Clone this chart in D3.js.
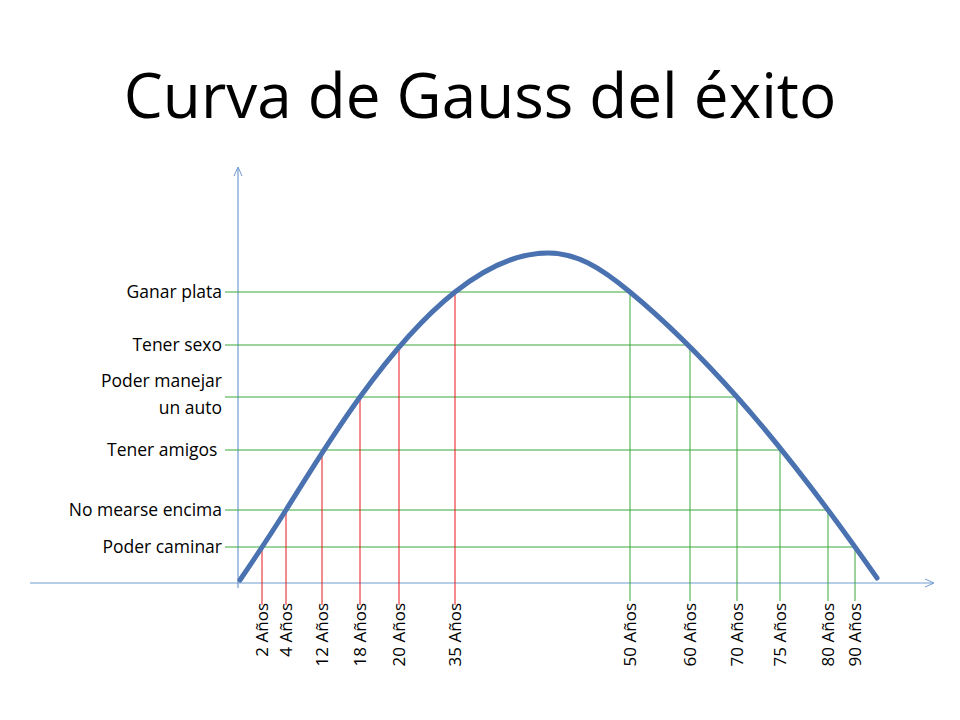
<!DOCTYPE html>
<html><head><meta charset="utf-8">
<script src="https://cdn.jsdelivr.net/npm/d3@7"></script>
<style>body{margin:0;background:#fff}svg{display:block}</style>
</head><body>
<svg id="c" width="960" height="720"></svg>
<script>
// Data (x: position along horizontal axis, y: height above axis)
const levelLabels = [["Ganar plata"],["Tener sexo"],["Poder manejar","un auto"],["Tener amigos "],["No mearse encima"],["Poder caminar"]];
const levelValues = [291, 238, 186, 133, 73, 36];
const riseAges = ["2 Años","4 Años","12 Años","18 Años","20 Años","35 Años"];
const riseX = [24, 48, 84, 122, 161, 217];
const fallAges = ["50 Años","60 Años","70 Años","75 Años","80 Años","90 Años"];
const fallX = [392, 452, 499, 542, 590, 617];
const curveX = [2, 48, 122, 217, 310, 392, 499, 590, 639];
const curveY = [3, 73, 186, 291, 330, 291, 186, 73, 5];

const svg = d3.select("#c");
const x = d3.scaleLinear().domain([0,700]).range([238,938]);
const y = d3.scaleLinear().domain([0,340]).range([583,243]);
const font = "'Open Sans', 'Noto Sans', sans-serif";
const axisCol = "#6f9bd1", blue = "#4a72b0";

svg.append("text").attr("x",480).attr("y",118).attr("text-anchor","middle")
  .attr("font-family",font).attr("font-size",62).attr("fill","#000").text("Curva de Gauss del éxito");

svg.append("line").attr("x1",x(0)).attr("x2",x(0)).attr("y1",y(-5)).attr("y2",y(415)).attr("stroke",axisCol).attr("stroke-width",1.2);
svg.append("line").attr("x1",x(-208)).attr("x2",x(695)).attr("y1",y(0)).attr("y2",y(0)).attr("stroke",axisCol).attr("stroke-width",1.2);
svg.append("path").attr("d",`M${x(0)-4},${y(407)}L${x(0)},${y(416)}L${x(0)+4},${y(407)}`).attr("fill","none").attr("stroke",axisCol);
svg.append("path").attr("d",`M${x(687)},${y(0)-4}L${x(696)},${y(0)}L${x(687)},${y(0)+4}`).attr("fill","none").attr("stroke",axisCol);

levelValues.forEach((v,i)=>{
  svg.append("line").attr("x1",x(-13)).attr("x2",x(fallX[i])).attr("y1",y(v)).attr("y2",y(v)).attr("stroke","#3aa63a").attr("stroke-width",1);
  const lines = levelLabels[i];
  lines.forEach((t,j)=>{
    svg.append("text").attr("x",x(-16)).attr("y",y(v)+6-(lines.length-1-j)*27 + (lines.length>1?11:0))
      .attr("text-anchor","end").attr("font-family",font).attr("font-size",17.5).attr("xml:space","preserve").text(t);
  });
});
riseX.forEach((v,i)=>{
  svg.append("line").attr("x1",x(v)).attr("x2",x(v)).attr("y1",y(levelValues[5-i])).attr("y2",y(-22)).attr("stroke","#e8191c").attr("stroke-width",1);
});
fallX.forEach((v,i)=>{
  svg.append("line").attr("x1",x(v)).attr("x2",x(v)).attr("y1",y(levelValues[i])).attr("y2",y(-18)).attr("stroke","#3aa63a").attr("stroke-width",1);
});
svg.append("path").datum(curveX.map((d,i)=>[d,curveY[i]]))
  .attr("d",d3.line().x(d=>x(d[0])).y(d=>y(d[1])).curve(d3.curveNatural))
  .attr("fill","none").attr("stroke",blue).attr("stroke-width",5).attr("stroke-linecap","round");
const ageLbl = (t,v)=>svg.append("text").attr("transform",`translate(${x(v)+6},${y(-20)}) rotate(-90)`)
  .attr("text-anchor","end").attr("font-family",font).attr("font-size",17).text(t);
riseAges.forEach((t,i)=>ageLbl(t,riseX[i]));
fallAges.forEach((t,i)=>ageLbl(t,fallX[i]));
</script>
</body></html>
